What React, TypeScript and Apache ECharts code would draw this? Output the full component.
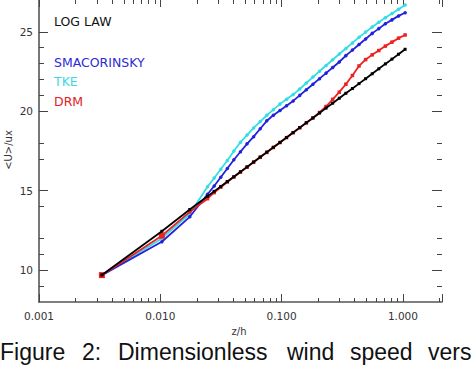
import React, { useEffect, useRef } from 'react';
import * as echarts from 'echarts';

// z/h sample heights
const zOverH = [
  0.0033, 0.0103, 0.0175, 0.0245, 0.0278, 0.0315, 0.0357, 0.0404, 0.0458, 0.0519,
  0.0588, 0.0666, 0.0755, 0.0855, 0.0969, 0.1098, 0.1245, 0.1411, 0.1599, 0.1811,
  0.2053, 0.2326, 0.2636, 0.2987, 0.3385, 0.3836, 0.4347, 0.4926, 0.5582, 0.6325,
  0.7167, 0.8122, 0.9204, 1.043,
];

// <U>/u* for each model
const logLaw = [
  9.7, 12.45, 13.82, 14.65, 14.96, 15.27, 15.58, 15.88, 16.19, 16.5,
  16.81, 17.12, 17.43, 17.73, 18.04, 18.35, 18.66, 18.97, 19.28, 19.58,
  19.89, 20.2, 20.51, 20.82, 21.13, 21.43, 21.74, 22.05, 22.36, 22.67,
  22.98, 23.28, 23.59, 23.9,
];
const smagorinsky = [
  9.69, 11.79, 13.36, 14.78, 15.3, 15.85, 16.4, 16.95, 17.45, 17.95,
  18.4, 18.9, 19.4, 19.75, 20.05, 20.35, 20.65, 21.0, 21.35, 21.7,
  22.05, 22.4, 22.75, 23.1, 23.5, 23.85, 24.2, 24.55, 24.9, 25.2,
  25.5, 25.75, 26.0, 26.2,
];
const tke = [
  9.69, 12.0, 13.55, 15.25, 15.8, 16.35, 16.9, 17.5, 18.05, 18.5,
  18.95, 19.35, 19.75, 20.1, 20.45, 20.75, 21.05, 21.4, 21.78, 22.15,
  22.52, 22.88, 23.24, 23.6, 23.95, 24.3, 24.65, 24.98, 25.3, 25.6,
  25.88, 26.15, 26.42, 26.68,
];
const drm = [
  9.69, 12.17, 13.67, 14.5, 14.88, 15.22, 15.55, 15.86, 16.17, 16.48,
  16.79, 17.1, 17.41, 17.72, 18.03, 18.34, 18.65, 18.96, 19.27, 19.58,
  19.92, 20.3, 20.75, 21.2, 21.7, 22.25, 22.85, 23.25, 23.55, 23.82,
  24.1, 24.35, 24.6, 24.8,
];

const xMin = 0.001;
const xMax = 2.1;
const yMin = 8;
const yMax = 27;
const yLabelValues = [10, 15, 20, 25];
const yMinorValues = [9, 11, 12, 14, 17, 18, 21, 22, 23, 24];
const legendNames = ['LOG LAW', 'SMACORINSKY', 'TKE', 'DRM'];
const legendColors = ['#111111', '#2b2bd6', '#3ad8e2', '#e22222'];
const captionWords = ['Figure', '2:', 'Dimensionless', 'wind', 'speed', 'vers'];
const captionX = [0, 82, 118, 287, 350, 428];

const AXIS_FONT = 'DejaVu Sans, sans-serif';

export default function App() {
  const ref = useRef<HTMLDivElement>(null);
  useEffect(() => {
    if (!ref.current) return;
    const chart = echarts.init(ref.current, undefined, { renderer: 'svg' });

    const logMax = Math.log10(xMax);
    const xMinor: number[] = [];
    for (let d = -3; d <= 0; d++) {
      for (let k = 2; k <= 9; k++) {
        const v = Math.log10(k) + d;
        if (v < logMax) xMinor.push(v);
      }
    }

    const pts = (arr: number[]) => zOverH.map((z, i) => [z, arr[i]]);
    const tickStyle = { color: '#444', width: 1 };
    const hiddenLine = { show: false, onZero: false };

    const mkSeries = (name: string, data: number[], color: string, symbol: string, size: any, z: number) => ({
      name,
      type: 'line',
      xAxisIndex: 0,
      yAxisIndex: 0,
      data: pts(data),
      symbol,
      symbolSize: size,
      showSymbol: true,
      z,
      lineStyle: { color, width: 1.8 },
      itemStyle: { color },
    });

    const legendY = [21.5, 62.5, 81, 101.5];

    chart.setOption({
      animation: false,
      grid: { left: 39, right: 32, top: 0, bottom: 66, outerBoundsMode: 'none' },
      xAxis: [
        {
          type: 'log', logBase: 10, min: xMin, max: xMax, position: 'bottom',
          axisLine: { show: true, onZero: false, lineStyle: { color: '#555', width: 1.6 } },
          axisTick: { inside: true, length: 8, lineStyle: tickStyle },
          axisLabel: {
            color: '#333', fontSize: 10.5, fontFamily: AXIS_FONT, margin: 8,
            formatter: (v: number) => (v > 1.5 ? '' : v.toFixed(3)),
          },
          splitLine: { show: false },
        },
        {
          type: 'value', min: -3, max: logMax, position: 'bottom',
          axisLine: hiddenLine,
          axisTick: { inside: true, length: 4, lineStyle: tickStyle, customValues: xMinor },
          axisLabel: { show: false },
          splitLine: { show: false },
        },
        {
          type: 'log', logBase: 10, min: xMin, max: xMax, position: 'top',
          axisLine: hiddenLine,
          axisTick: { inside: true, length: 7, lineStyle: tickStyle },
          axisLabel: { show: false },
          splitLine: { show: false },
        },
        {
          type: 'value', min: -3, max: logMax, position: 'top',
          axisLine: hiddenLine,
          axisTick: { inside: true, length: 4, lineStyle: tickStyle, customValues: xMinor },
          axisLabel: { show: false },
          splitLine: { show: false },
        },
      ],
      yAxis: [
        {
          type: 'value', min: yMin, max: yMax, position: 'left',
          axisLine: { show: true, onZero: false, lineStyle: { color: '#555', width: 1.6 } },
          axisTick: { inside: true, length: 9, lineStyle: tickStyle, customValues: yLabelValues },
          axisLabel: { color: '#333', fontSize: 10.5, fontFamily: AXIS_FONT, margin: 6, customValues: yLabelValues },
          splitLine: { show: false },
        },
        {
          type: 'value', min: yMin, max: yMax, position: 'left',
          axisLine: hiddenLine,
          axisTick: { inside: true, length: 5, lineStyle: tickStyle, customValues: yMinorValues },
          axisLabel: { show: false },
          splitLine: { show: false },
        },
        {
          type: 'value', min: yMin, max: yMax, position: 'right',
          axisLine: hiddenLine,
          axisTick: { inside: true, length: 10, lineStyle: tickStyle, customValues: yLabelValues },
          axisLabel: { show: false },
          splitLine: { show: false },
        },
        {
          type: 'value', min: yMin, max: yMax, position: 'right',
          axisLine: hiddenLine,
          axisTick: { inside: true, length: 5, lineStyle: tickStyle, customValues: yMinorValues },
          axisLabel: { show: false },
          splitLine: { show: false },
        },
      ],
      series: [
        mkSeries('TKE', tke, '#33dde6', 'circle', 3.5, 2),
        mkSeries('SMACORINSKY', smagorinsky, '#2222dd', 'circle', 3.5, 3),
        mkSeries('DRM', drm, '#ee2020', 'rect', (_v: any, p: any) => (p.dataIndex < 2 ? 6 : 3.5), 4),
        mkSeries('LOG LAW', logLaw, '#000000', 'rect', 3, 5),
      ],
      graphic: [
        ...legendNames.map((name, i) => ({
          type: 'text', x: 54, y: legendY[i],
          style: { text: name, fill: legendColors[i], fontSize: 12.5, fontFamily: AXIS_FONT, verticalAlign: 'middle', align: 'left' },
        })),
        {
          type: 'text', x: 239, y: 331,
          style: { text: 'z/h', fill: '#333', fontSize: 10, fontFamily: AXIS_FONT, align: 'center', verticalAlign: 'middle' },
        },
        {
          type: 'text', x: 8, y: 150, rotation: Math.PI / 2,
          style: { text: '<U>/ux', fill: '#333', fontSize: 10, fontFamily: AXIS_FONT, align: 'center', verticalAlign: 'middle' },
        },
        ...captionWords.map((w, i) => ({
          type: 'text', x: captionX[i], y: 352,
          style: { text: w, fill: '#111', fontSize: 23, fontFamily: 'Liberation Sans, Arial, sans-serif', align: 'left', verticalAlign: 'middle' },
        })),
      ],
    });
    return () => chart.dispose();
  }, []);
  return <div ref={ref} style={{ position: 'absolute', left: 0, top: 0, width: 474, height: 368 }} />;
}
